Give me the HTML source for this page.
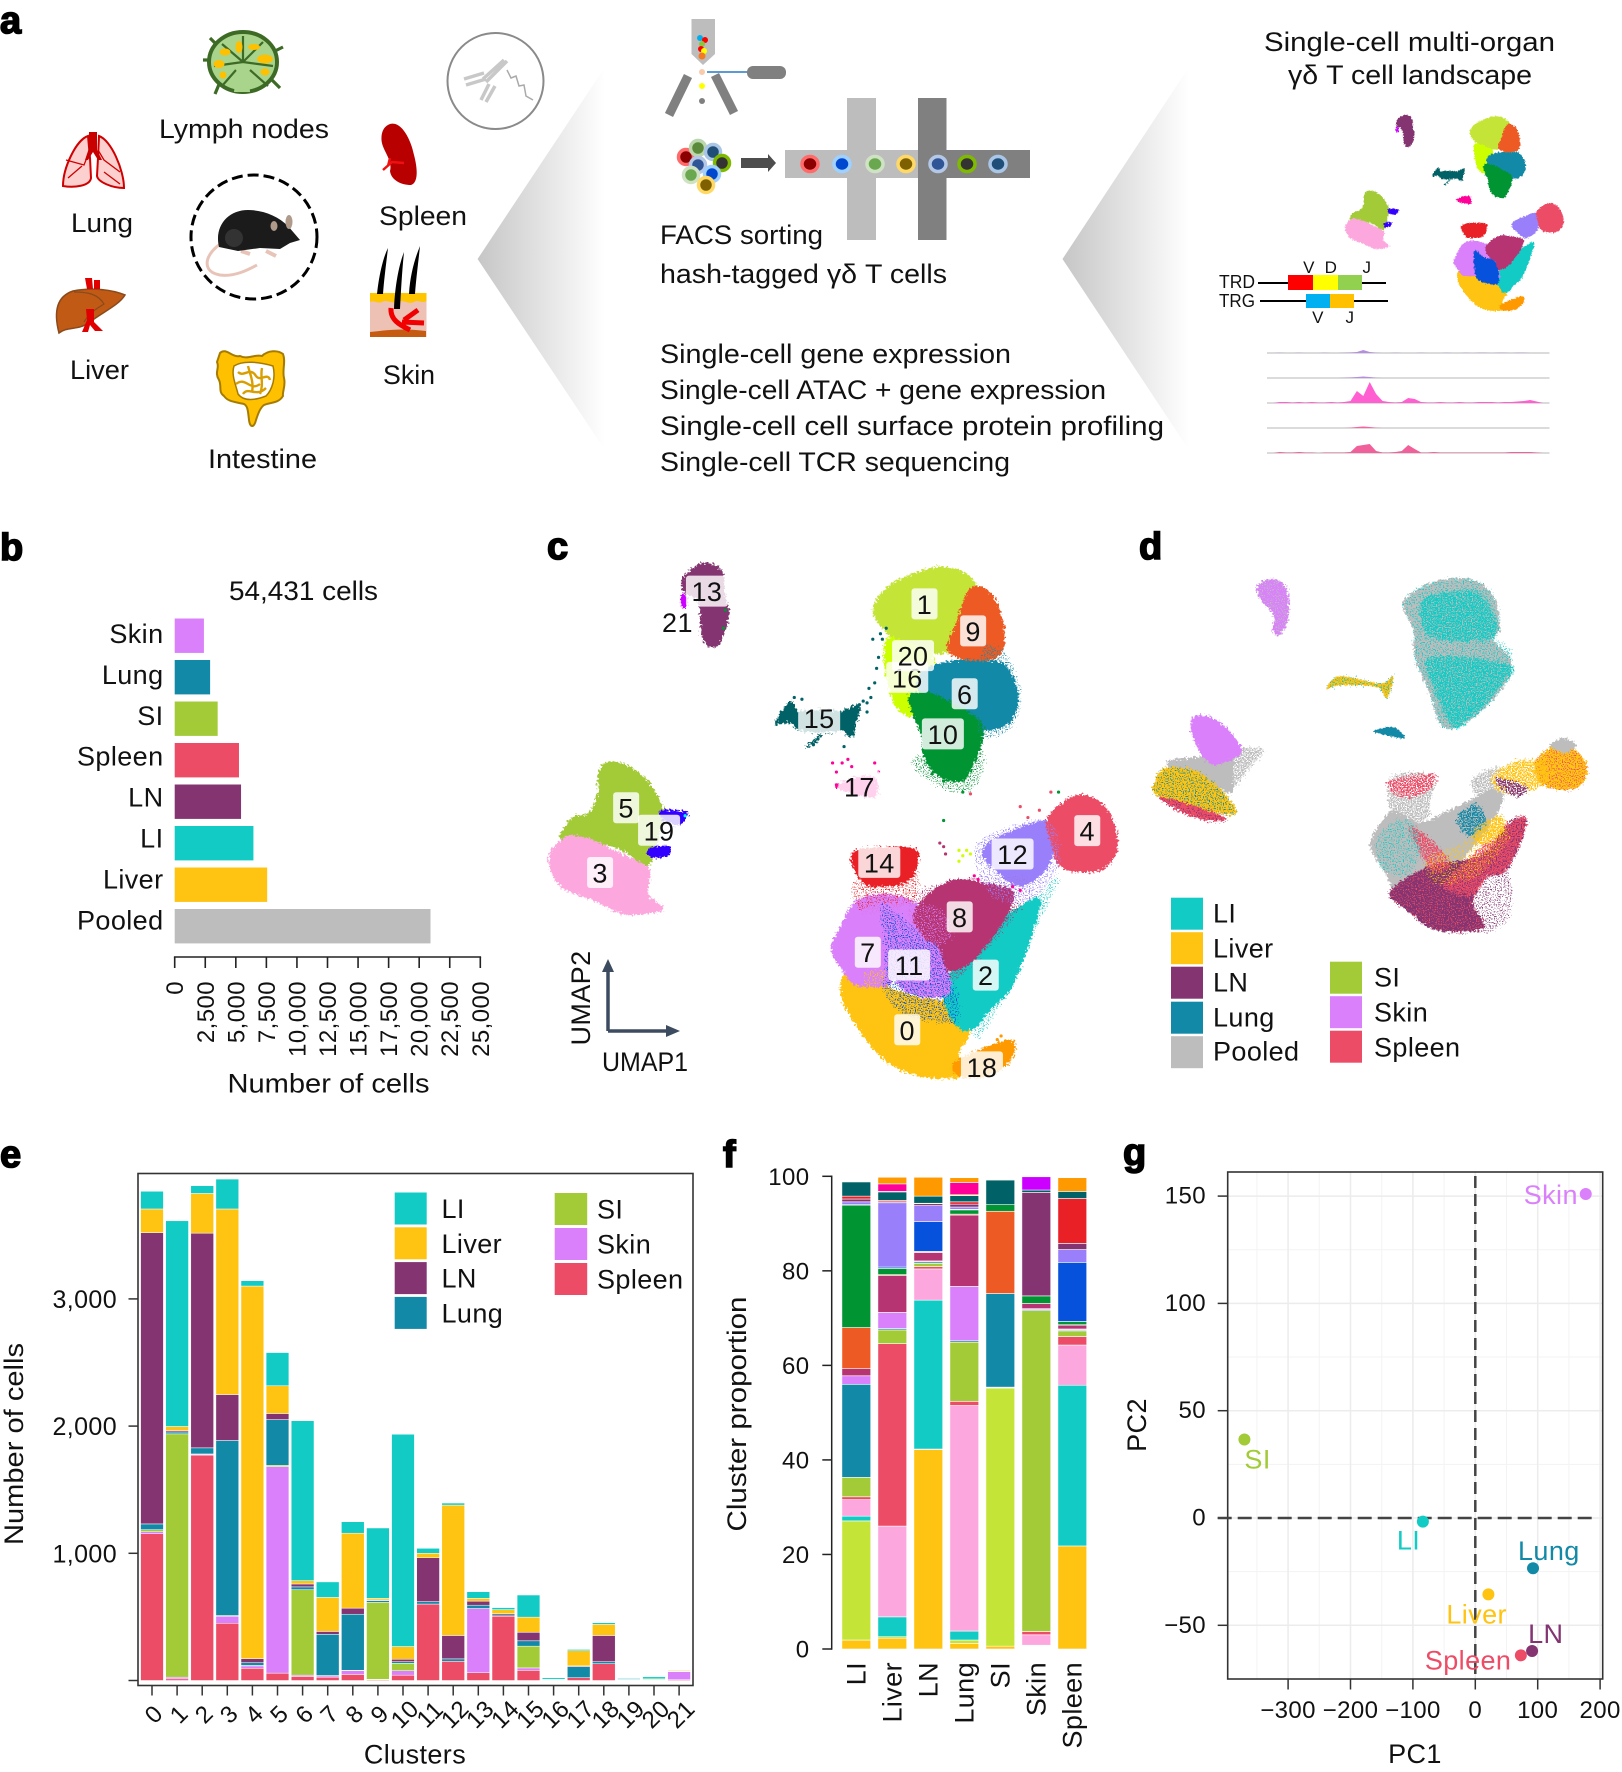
<!DOCTYPE html>
<html lang="en">
<head>
<meta charset="utf-8">
<title>Multi-organ gamma delta T cell landscape figure</title>
<style>
html,body{margin:0;padding:0;background:#fff;}
svg{display:block;}
text{font-family:"Liberation Sans","DejaVu Sans",sans-serif;fill:#111;letter-spacing:.4px;}
text[textLength]{letter-spacing:0;}
.lt{font-size:27px;}
.pl{font-size:38px;font-weight:bold;stroke:#000;stroke-width:1.6px;fill:#000;letter-spacing:0;}
</style>
</head>
<body>
<svg id="fig" xmlns="http://www.w3.org/2000/svg" width="1622" height="1772" viewBox="0 0 1622 1772">
<defs>
<linearGradient id="chev" x1="0" x2="1" y1="0" y2="0"><stop offset="0" stop-color="#c6c6c6"/><stop offset="1" stop-color="#ffffff"/></linearGradient>
<filter id="rough" x="-15%" y="-15%" width="130%" height="130%" color-interpolation-filters="sRGB"><feTurbulence type="fractalNoise" baseFrequency="0.45" numOctaves="2" seed="3" result="n"/><feDisplacementMap in="SourceGraphic" in2="n" scale="8" xChannelSelector="R" yChannelSelector="G"/></filter>
<filter id="roughSmall" x="-15%" y="-15%" width="130%" height="130%" color-interpolation-filters="sRGB"><feTurbulence type="fractalNoise" baseFrequency="0.6" numOctaves="2" seed="7" result="n"/><feDisplacementMap in="SourceGraphic" in2="n" scale="3.5" xChannelSelector="R" yChannelSelector="G"/></filter>
<filter id="speckDense" x="-15%" y="-15%" width="130%" height="130%" color-interpolation-filters="sRGB"><feTurbulence type="fractalNoise" baseFrequency="0.45" numOctaves="2" seed="31" result="d"/><feDisplacementMap in="SourceGraphic" in2="d" scale="11" xChannelSelector="R" yChannelSelector="G" result="s"/><feTurbulence type="fractalNoise" baseFrequency="0.8" numOctaves="1" seed="11" result="n"/><feColorMatrix in="n" type="matrix" values="0 0 0 0 0 0 0 0 0 0 0 0 0 0 0 14 0 0 0 -6" result="m"/><feComposite in="s" in2="m" operator="in"/></filter>
<filter id="speckSparse" x="-15%" y="-15%" width="130%" height="130%" color-interpolation-filters="sRGB"><feTurbulence type="fractalNoise" baseFrequency="0.45" numOctaves="2" seed="37" result="d"/><feDisplacementMap in="SourceGraphic" in2="d" scale="11" xChannelSelector="R" yChannelSelector="G" result="s"/><feTurbulence type="fractalNoise" baseFrequency="0.85" numOctaves="1" seed="23" result="n"/><feColorMatrix in="n" type="matrix" values="0 0 0 0 0 0 0 0 0 0 0 0 0 0 0 14 0 0 0 -7.9" result="m"/><feComposite in="s" in2="m" operator="in"/></filter>
</defs>

<g>
  <text class="pl" x="0" y="33">a</text>
  <polygon points="477.600,259 605,67 605,450" fill="url(#chev)"/>
  <polygon points="1062.500,259 1189,67 1189,450" fill="url(#chev)"/>

  <g transform="translate(-2 0)">
  <g>
    <path d="M205 60h12M212 38l10 10M236 32l2 11M262 35l-6 9M285 47l-12 6M282 88l-9-9M217 94l5-12M216 80l8-4" stroke="#3d6b26" stroke-width="3.200" fill="none"/>
    <ellipse cx="245" cy="62" rx="34" ry="30" fill="#a8d48c" stroke="#3d6b26" stroke-width="4"/>
    <path d="M245 62L245 36M245 62L224 44M245 62L265 42M245 62L216 66M245 62L275 66M252 70L270 86M238 70L224 86" stroke="#3d6b26" stroke-width="2.200" fill="none"/>
    <ellipse cx="241" cy="47" rx="3.500" ry="6" fill="#ffc000"/><ellipse cx="227" cy="52" rx="5.500" ry="3.500" fill="#ffc000"/><ellipse cx="256" cy="47" rx="6" ry="3" fill="#ffc000"/><ellipse cx="267" cy="59" rx="8" ry="4.500" fill="#ffc000"/><ellipse cx="221" cy="64" rx="5.500" ry="4" fill="#ffc000"/><ellipse cx="267" cy="72" rx="4.500" ry="3.500" fill="#ffc000"/><ellipse cx="225" cy="75" rx="3.500" ry="3.500" fill="#ffc000"/>
    <path d="M239 66L236 92L252 92L250 66Z" fill="#a8d48c"/>
  </g>
  <text class="lt" x="161" y="138" textLength="170" lengthAdjust="spacingAndGlyphs">Lymph nodes</text>

  <g>
    <path d="M90 136C78 140 65 168 65 186C76 188 92 186 93 178L92 158Z" fill="#fdd0d0" stroke="#d00000" stroke-width="2"/>
    <path d="M101 136C113 140 126 170 126 188C114 188 100 182 99 176L100 158Z" fill="#fdd0d0" stroke="#d00000" stroke-width="2"/>
    <path d="M68 160L86 165L92 150M70 178L84 166M122 172L106 160L100 150M122 184L106 172" stroke="#d00000" stroke-width="1.300" fill="none"/>
    <path d="M91 132H99V150L104 160H100L95 152L90 160H87L91 148Z" fill="#c80000"/>
  </g>
  <text class="lt" x="73" y="232" textLength="62" lengthAdjust="spacingAndGlyphs">Lung</text>

  <g>
    <path d="M392 124C402 121 412 136 416 155C420 170 420 183 413 185C403 185 393 180 392 171C395 160 384 150 383.500 140C383 132 386 126 392 124Z" fill="#b80000"/>
    <path d="M385 170L394 162L406 163M390 166L392 158" stroke="#f01010" stroke-width="2.500" fill="none"/>
  </g>
  <text class="lt" x="381" y="225" textLength="88" lengthAdjust="spacingAndGlyphs">Spleen</text>

  <ellipse cx="256" cy="237" rx="63" ry="62" fill="none" stroke="#000" stroke-width="3" stroke-dasharray="11 5"/>
  <g>
    <path d="M221 245C206 256 204 272 222 275C236 277 250 270 259 265" fill="none" stroke="#e8c4b8" stroke-width="3"/>
    <path d="M243 251L252 254M268 251L278 256" stroke="#e8c4b8" stroke-width="4"/>
    <path d="M221 247C216 226 230 210 250 210C265 210 280 216 290 226L302 240L292 243L282 249L262 248L240 251Z" fill="#1b1b1b"/>
    <ellipse cx="291" cy="222" rx="3.500" ry="7" fill="#b09a8a"/><ellipse cx="276" cy="226" rx="3.500" ry="5" fill="#b09a8a"/>
    <circle cx="236" cy="238" r="9" fill="#333"/>
  </g>

  <g>
    <path d="M61 333C55 310 60 296 75 291C95 287 115 290 127 295C121 305 105 312 92 322C80 331 70 326 61 333Z" fill="#c05a14" stroke="#8a4a1c" stroke-width="1.500"/>
    <path d="M76 292C90 292 100 294 106 304C100 308 92 312 86 322" stroke="#8a4a1c" stroke-width="1.200" fill="none"/>
    <path d="M87 278H94L95 289H89ZM96 280H102V289H96Z" fill="#e00000"/>
    <path d="M88 309H96V322L105 331H97L92 325L90 332H84L89 320Z" fill="#e00000"/>
  </g>
  <text class="lt" x="72" y="379" textLength="59" lengthAdjust="spacingAndGlyphs">Liver</text>

  <g>
    <rect x="372" y="293" width="56.500" height="44" fill="#edc1b4"/>
    <path d="M372 293H428.500V301C424 304 420 299 416 302C410 305 406 299 400 302C394 304 388 299 384 302C380 304 376 300 372 302Z" fill="#ffc600"/>
    <path d="M372 332C390 330 405 328 428 331V337H372Z" fill="#c55a11"/>
    <path d="M379 294C381 275 385 258 390 248C388 265 386 280 385 294Z" fill="#000"/><path d="M396 309C397 285 401 265 406 252C404 272 403 290 402 309Z" fill="#000"/><path d="M411 294C412 275 417 258 422 246C420 265 418 280 417 294Z" fill="#000"/>
    <path d="M393 308C392 320 402 325 412 330M404 322L426 323M406 320L420 310" stroke="#f00000" stroke-width="5" fill="none"/>
  </g>
  <text class="lt" x="385" y="384" textLength="52" lengthAdjust="spacingAndGlyphs">Skin</text>

  <g>
    <path d="M222 353C228 347 234 358 242 356C250 360 256 354 264 356C270 350 280 350 285 354C288 362 284 370 286 378C288 386 284 392 285 396C280 404 272 402 266 405C262 408 260 414 258 420C256 428 252 428 251 420C250 412 250 406 246 404C238 402 230 402 226 396C220 392 224 386 221 380C216 372 222 368 219 362Z" fill="#ffc000" stroke="#a67c00" stroke-width="2"/>
    <path d="M236 366C245 360 262 362 275 366C278 378 274 390 268 396C258 400 246 402 240 394C238 385 233 375 236 366Z" fill="#fff" stroke="#a67c00" stroke-width="1.500"/>
    <path d="M240 372C246 378 252 366 258 376C262 382 270 372 272 380M238 384C248 376 252 392 262 384M245 394C250 386 258 398 268 388M250 366C252 374 256 382 254 392M264 368C262 376 266 384 262 394" fill="none" stroke="#d99f00" stroke-width="2.400"/>
  </g>
  <text class="lt" x="210" y="468" textLength="109" lengthAdjust="spacingAndGlyphs">Intestine</text>

  <g>
    <ellipse cx="497.500" cy="81" rx="48" ry="48" fill="#fff" stroke="#8a8a8a" stroke-width="2"/>
    <path d="M509 61L488 82M506 60L485 79M466 79L486 73M468 85L488 79M497 86L488 102M491 84L483 100" stroke="#c8c8c8" stroke-width="3.500" fill="none"/>
    <path d="M509 70L513 78L518 76L521 86L526 85L528 96L535 100" stroke="#aaa" stroke-width="1.500" fill="none"/>
  </g>
  </g>

  <g transform="translate(-1 0)">
  <g>
    <path d="M692.500 19H716V54L704 65L692.500 54Z" fill="#bdbdbd"/>
    <circle cx="701" cy="38" r="3" fill="#00aeef"/><circle cx="706" cy="40" r="3" fill="#f00"/><circle cx="703" cy="44" r="3" fill="#8cc63f"/><circle cx="702" cy="49" r="3" fill="#f00"/><circle cx="705" cy="51" r="3" fill="#ff0"/><circle cx="703" cy="56" r="3.500" fill="#f47b20"/>
    <circle cx="703" cy="72" r="3" fill="#f8cbad"/>
    <line x1="708" y1="72" x2="750" y2="72" stroke="#5b9bd5" stroke-width="2"/>
    <rect x="748" y="66" width="39" height="13" rx="6" fill="#808080"/>
    <path d="M689 76L670 115" stroke="#808080" stroke-width="9"/><path d="M716 75L735 113" stroke="#808080" stroke-width="9"/>
    <circle cx="703" cy="86" r="3" fill="#ff0"/><circle cx="703" cy="101" r="3" fill="#808080"/>
  </g>
  <g>
    <g stroke-width="3.500"><circle cx="687" cy="157" r="7.500" fill="#8b0000" stroke="#ff6b6b"/><circle cx="699" cy="148" r="7.500" fill="#5a8a3a" stroke="#bcd6ad"/><circle cx="714" cy="152" r="7.500" fill="#1f4e79" stroke="#a9c6e6"/><circle cx="699" cy="165" r="7.500" fill="#2f5597" stroke="#b4c7e7"/><circle cx="723" cy="163" r="7.500" fill="#333" stroke="#7fba00"/><circle cx="713" cy="174" r="7.500" fill="#0047d0" stroke="#9fd0ff"/><circle cx="692" cy="175" r="7.500" fill="#6aa84f" stroke="#cfe2c3"/><circle cx="707" cy="185" r="7.500" fill="#7f6000" stroke="#ffd966"/></g>
    <path d="M742 158H769V154L777 163L769 172V168H742Z" fill="#4d4d4d"/>
  </g>
  <g>
    <rect x="848" y="98" width="29" height="142" fill="#bdbdbd"/>
    <rect x="786" y="150" width="136" height="28" fill="#bdbdbd"/>
    <rect x="919" y="150" width="112" height="28" fill="#808080"/>
    <rect x="919" y="98" width="28.500" height="142" fill="#808080"/>
    <g stroke-width="3.500"><ellipse cx="811" cy="164" rx="8" ry="7.500" fill="#8b0000" stroke="#ff6b6b"/><ellipse cx="843" cy="164" rx="8" ry="7.500" fill="#0047d0" stroke="#9fd0ff"/><ellipse cx="876" cy="164" rx="8" ry="7.500" fill="#6aa84f" stroke="#cfe2c3"/><ellipse cx="907" cy="164" rx="8" ry="7.500" fill="#7f6000" stroke="#ffd966"/><ellipse cx="939" cy="164" rx="8" ry="7.500" fill="#2f5597" stroke="#b4c7e7"/><ellipse cx="968" cy="164" rx="8" ry="7.500" fill="#333" stroke="#7fba00"/><ellipse cx="999" cy="164" rx="8" ry="7.500" fill="#1f4e79" stroke="#a9c6e6"/></g>
  </g>
  </g>
  <text class="lt" x="660" y="244" textLength="163" lengthAdjust="spacingAndGlyphs">FACS sorting</text>
  <text class="lt" x="660" y="283" textLength="287" lengthAdjust="spacingAndGlyphs">hash-tagged γδ T cells</text>
  <text class="lt" x="660" y="363" textLength="351" lengthAdjust="spacingAndGlyphs">Single-cell gene expression</text>
  <text class="lt" x="660" y="399" textLength="446" lengthAdjust="spacingAndGlyphs">Single-cell ATAC + gene expression</text>
  <text class="lt" x="660" y="435" textLength="504" lengthAdjust="spacingAndGlyphs">Single-cell cell surface protein profiling</text>
  <text class="lt" x="660" y="471" textLength="350" lengthAdjust="spacingAndGlyphs">Single-cell TCR sequencing</text>
  <text class="lt" x="1264" y="51" textLength="291" lengthAdjust="spacingAndGlyphs">Single-cell multi-organ</text>
  <text class="lt" x="1288" y="84" textLength="244" lengthAdjust="spacingAndGlyphs">γδ T cell landscape</text>

  <g id="mini-umap"></g>

  <g transform="translate(-3 0)">
    <text x="1222" y="288" font-size="18" textLength="36" lengthAdjust="spacingAndGlyphs">TRD</text>
    <text x="1222" y="307" font-size="18" textLength="36" lengthAdjust="spacingAndGlyphs">TRG</text>
    <line x1="1261" y1="283" x2="1389" y2="283" stroke="#000" stroke-width="2"/>
    <line x1="1263" y1="301" x2="1391" y2="301" stroke="#000" stroke-width="2"/>
    <rect x="1291" y="275" width="25" height="15" fill="#ff0000"/><rect x="1316" y="275" width="25" height="15" fill="#ffff00"/><rect x="1341" y="275" width="24" height="15" fill="#92d050"/>
    <rect x="1309" y="294" width="24" height="14" fill="#00b0f0"/><rect x="1333" y="294" width="24" height="14" fill="#ffc000"/>
    <text x="1312" y="273" font-size="17" text-anchor="middle">V</text><text x="1334" y="273" font-size="17" text-anchor="middle">D</text><text x="1370" y="273" font-size="17" text-anchor="middle">J</text>
    <text x="1321" y="323" font-size="17" text-anchor="middle">V</text><text x="1353" y="323" font-size="17" text-anchor="middle">J</text>
  </g>
  <g id="tracks"></g>
</g>

<g id="panel-b">
  <text class="pl" x="0" y="560">b</text>
  <text class="lt" x="229" y="600" textLength="149" lengthAdjust="spacingAndGlyphs">54,431 cells</text>
  <text class="lt" x="227.500" y="1092.500" textLength="202" lengthAdjust="spacingAndGlyphs">Number of cells</text>
</g>

<g id="panel-c">
  <text class="pl" x="547" y="559">c</text>
  <g transform="translate(-1 -1)">
    <path d="M609 1032V968M609 1032H673" fill="none" stroke="#3d4b60" stroke-width="3.500"/>
    <path d="M609 960L603 973H615Z" fill="#3d4b60"/><path d="M681 1032L667 1026V1038Z" fill="#3d4b60"/>
  </g>
  <text class="lt" transform="translate(590 998) rotate(-90)" text-anchor="middle">UMAP2</text>
  <text class="lt" x="602" y="1071" textLength="86" lengthAdjust="spacingAndGlyphs">UMAP1</text>
</g>

<g id="panel-d">
  <text class="pl" x="1139" y="559">d</text>
  <g id="legend-d" transform="translate(-1 -2.300)">
    <rect x="1172" y="900" width="32" height="32" fill="#12CBC4"/><text class="lt" x="1214" y="925">LI</text>
    <rect x="1172" y="934.500" width="32" height="32" fill="#FFC312"/><text class="lt" x="1214" y="960">Liver</text>
    <rect x="1172" y="969" width="32" height="32" fill="#833471"/><text class="lt" x="1214" y="994">LN</text>
    <rect x="1172" y="1004" width="32" height="32" fill="#1289A7"/><text class="lt" x="1214" y="1029">Lung</text>
    <rect x="1172" y="1038.500" width="32" height="32" fill="#BDBDBD"/><text class="lt" x="1214" y="1063">Pooled</text>
    <rect x="1331" y="964" width="32" height="32" fill="#A3CB38"/><text class="lt" x="1375" y="989">SI</text>
    <rect x="1331" y="998.500" width="32" height="32" fill="#D980FA"/><text class="lt" x="1375" y="1024">Skin</text>
    <rect x="1331" y="1033" width="32" height="32" fill="#ED4C67"/><text class="lt" x="1375" y="1059">Spleen</text>
  </g>
</g>

<g id="panel-e">
  <text class="pl" x="0" y="1167">e</text>
  <text class="lt" transform="translate(23 1444) rotate(-90)" text-anchor="middle" textLength="202" lengthAdjust="spacingAndGlyphs">Number of cells</text>
  <text class="lt" x="415" y="1763.500" text-anchor="middle">Clusters</text>
</g>

<g id="panel-f">
  <text class="pl" x="723" y="1167">f</text>
  <text class="lt" transform="translate(746 1414) rotate(-90)" text-anchor="middle" textLength="235" lengthAdjust="spacingAndGlyphs">Cluster proportion</text>
</g>

<g id="panel-g">
  <text class="pl" x="1123" y="1165">g</text>
  <text class="lt" x="1415" y="1763" text-anchor="middle">PC1</text>
  <text class="lt" transform="translate(1146 1425) rotate(-90)" text-anchor="middle">PC2</text>
</g>
</svg>

<script>
/* ---------- shared palette names ---------- */
const clusterColors = ['#FFC312','#C4E538','#12CBC4','#FDA7DF','#ED4C67','#A3CB38','#1289A7','#D980FA','#B53471','#EE5A24','#009432','#0652DD','#9980FA','#833471','#EA2027','#006266','#CCFF00','#FF0099','#FF9900','#3300FF','#00FFFF','#CC00FF'];
const tissueColors = {LI:'#12CBC4',Liver:'#FFC312',LN:'#833471',Lung:'#1289A7',Pooled:'#BDBDBD',SI:'#A3CB38',Skin:'#D980FA',Spleen:'#ED4C67'};

/* ---------- panel b data ---------- */
const bTissues = ['Skin','Lung','SI','Spleen','LN','LI','Liver','Pooled'];
const bCounts = [2390,2897,3515,5259,5427,6440,7565,20925];
const bTickValues = [0,2500,5000,7500,10000,12500,15000,17500,20000,22500,25000];
const bTickLabels = ['0','2,500','5,000','7,500','10,000','12,500','15,000','17,500','20,000','22,500','25,000'];

/* ---------- panel e data (cells per cluster, per tissue) ---------- */
const eClusters = ['0','1','2','3','4','5','6','7','8','9','10','11','12','13','14','15','16','17','18','19','20','21'];
const eSpleen = [1154,13,1772,450,96,58,32,26,48,6,42,601,151,61,505,80,3,22,132,3,3,6];
const eSkin = [16,13,6,55,19,1624,10,10,29,3,35,0,0,505,0,19,0,0,0,2,0,64];
const eSI = [16,1913,3,6,3,10,672,3,3,605,58,0,0,0,0,171,3,0,0,0,6,3];
const eLung = [45,15,48,1376,22,359,22,324,441,13,13,19,19,26,10,42,0,87,16,6,0,0];
const eLN = [2290,11,1688,361,32,48,23,23,48,6,19,345,184,32,10,67,0,6,206,3,0,0];
const eLiver = [186,32,312,1459,2929,218,26,267,589,13,100,35,1025,22,32,119,3,119,87,0,4,6];
const eLI = [139,1617,61,235,42,261,1257,122,90,553,1669,39,16,52,16,174,12,10,13,6,16,0];
const eTickValues = [0,1000,2000,3000];
const eTickLabels = ['','1,000','2,000','3,000'];
const eLegendA = ['LI','Liver','LN','Lung'];
const eLegendB = ['SI','Skin','Spleen'];

/* ---------- panel f data (percent of tissue per cluster 0..21) ---------- */
const fTissues = ['LI','Liver','LN','Lung','SI','Skin','Spleen'];
const fLI = [1.9,25.2,1.0,3.5,.6,4.1,19.7,1.8,1.5,8.7,25.9,.1,.6,.6,.6,3.0,0,0,0,0,0,0];
const fLiver = [2.3,.3,4.2,19.2,38.6,2.9,.3,3.4,7.8,.2,1.3,.3,13.6,.2,.3,1.8,.1,1.6,1.4,0,0,0];
const fLN = [42.2,.1,31.5,6.6,.5,.7,.3,.2,1.8,.1,.1,6.3,3.4,.4,.1,1.5,0,0,4,0,0,0];
const fLung = [1.2,.7,1.9,47.7,.9,12.5,.3,11.5,15.1,.2,.9,.1,.5,.6,.5,1.3,.2,2.6,1.0,0,0,0];
const fSI = [.6,54.6,.1,0,0,.1,19.8,0,0,17.4,1.4,0,0,0,0,5.2,0,0,0,0,0,0];
const fSkin = [0,0,0,2.2,.7,67.9,.2,.2,1.1,0,1.6,0,0,21.9,0,.5,0,0,0,0,0,2.8];
const fSpleen = [21.8,0,34,8.5,1.8,1.2,.2,.2,.8,.1,.7,12.5,2.7,1.3,9.5,1.5,0,0,2.9,0,0,0];
const fUnassigned = [0,0,0,0,0,.8,0];
const fTickValues = [0,20,40,60,80,100];

/* ---------- panel g data ---------- */
const gTissues = ['Skin','SI','LI','Lung','Liver','LN','Spleen'];
const gPC1 = [177,-370,-84,92.5,21,91,73];
const gPC2 = [151,36.6,-1.7,-23.4,-35.6,-62,-64];
const gXTicks = [-300,-200,-100,0,100,200];
const gYTicks = [-50,0,50,100,150];
const gXMinor = [-350,-250,-150,-50,50,150];
const gYMinor = [-25,25,75,125];

/* ---------- coverage track heights ---------- */
const track1 = [0,0,.3,0,0,.3,0,0,0,.3,0,0,.3,.5,1,3,1,.3,0,0,.3,0,0,0,.3,0,0,0,.3,0,0,.3,0,.3,.3,0,.3,.3,0,.3,.3,0,0,0,0];
const track2 = [0,0,0,0,0,0,0,0,0,0,0,0,.3,.5,1,1.5,1,.3,0,0,0,0,0,0,0,0,0,0,0,0,0,0,0,0,0,0,0,0,0,0,0,0,0,0,0];
const track3 = [0,0,1,1,.5,1,.5,1,.5,.5,1,.5,1,2,12,7,21,9,2,1,.5,1,5,4,1,.5,.5,1,.5,.5,1,.5,.5,1,1,1,.5,1,1,1.5,2,3,1.5,0,0];
const track4 = [0,0,0,0,0,0,0,0,0,0,0,0,0,.3,1,1.5,1,.3,0,0,0,0,0,0,0,0,0,0,0,0,0,0,0,0,0,0,0,0,0,0,0,0,0,0,0];
const track5 = [0,0,1,.5,.5,1,.5,.5,0,.5,.5,.5,.5,1,7,8,9,2,.5,.5,1,2,8,4,.5,.5,1,.5,.5,.5,.5,.5,.5,.5,.5,.5,.5,.5,1,1,1,1,.5,0,0];

/* ---------- panel c embedding outlines (UMAP1, UMAP2 reversed) ---------- */
const hull0 = [[8.2,12.2],[9.0,12.4],[10.0,12.8],[10.9,13.0],[11.5,13.7],[11.2,14.4],[11.3,15.0],[10.4,15.05],[9.6,14.8],[9.0,14.3],[8.5,13.6],[8.15,12.9]];
const hull1 = [[9.0,2.0],[9.4,1.5],[10.0,1.2],[10.7,1.0],[11.4,1.2],[11.8,1.8],[11.5,2.4],[11.3,3.2],[10.6,3.4],[9.9,3.1],[9.4,2.9],[9.0,2.4]];
const hull2 = [[13.3,10.1],[13.15,11.0],[12.85,11.9],[12.5,12.7],[12.0,13.2],[11.6,13.7],[11.2,13.7],[10.8,13.0],[10.8,12.4],[11.2,11.9],[11.8,11.2],[12.4,10.6]];
const hull3 = [[.55,8.8],[1,8.4],[1.6,8.5],[2.4,8.9],[3.1,9.3],[3.1,10],[3.5,10.4],[3,10.55],[2.4,10.55],[1.7,10.2],[.8,9.8],[.5,9.2]];
const hull4 = [[13.5,7.9],[14.2,7.3],[14.8,7.4],[15.2,7.9],[15.35,8.7],[15.0,9.3],[14.3,9.4],[13.8,9.2],[13.6,8.6]];
const hull5 = [[1.8,6.6],[2.2,6.35],[3.0,6.8],[3.5,7.7],[3.4,8.2],[3.1,9.2],[2.4,8.8],[1.7,8.6],[.8,8.5],[1.1,7.9],[1.5,7.8],[1.75,7.3]];
const hull6 = [[10.2,3.9],[11.0,3.6],[11.8,3.6],[12.4,3.7],[12.75,4.5],[12.6,5.2],[12.1,5.5],[11.5,5.4],[10.9,5.0],[10.2,4.6]];
const hull7 = [[8.5,10.2],[9.2,10.0],[10.0,10.2],[10.6,10.9],[10.4,11.6],[9.6,11.8],[9.4,12.5],[8.5,12.5],[8.1,12.0],[7.85,11.5],[8.1,10.9]];
const hull7b = [[9.4,10.4],[10.6,10.9],[10.9,12.0],[10.9,12.8],[9.6,12.5]];
const hull8 = [[11.1,9.6],[11.9,9.7],[12.6,9.9],[12.5,10.5],[12.0,11.3],[11.5,11.9],[10.9,12.1],[10.7,11.5],[10.3,11.2],[10.0,10.6],[10.4,10.0]];
const hull9 = [[11.5,1.6],[12.0,1.7],[12.3,2.3],[12.4,3.0],[12.2,3.5],[11.5,3.6],[10.9,3.3],[11.1,2.6]];
const hull10 = [[9.9,4.5],[10.5,4.5],[11.3,4.9],[11.8,5.3],[11.8,5.9],[11.6,6.4],[11.3,6.9],[10.7,6.8],[10.3,6.3],[10.2,5.6],[10.0,5.1]];
const hull12 = [[12.1,8.5],[13.0,8.1],[13.5,8.0],[13.7,8.5],[13.5,9.3],[12.8,9.8],[12.2,9.4],[11.8,8.9]];
const hull13 = [[4.0,1.3],[4.5,.9],[5.0,1.1],[5.1,1.8],[5.2,2.4],[4.9,3.2],[4.5,3.0],[4.4,2.0],[4.0,1.7]];
const hull14 = [[8.5,8.8],[9.5,8.7],[10.1,8.8],[10.1,9.3],[9.8,9.7],[9.0,9.8],[8.7,9.7],[8.4,9.2]];
const hull15a = [[6.4,5.3],[6.8,4.7],[7.0,5.0],[7.3,5.0],[7.2,5.4],[6.8,5.3]];
const hull15b = [[8.0,5.1],[8.6,4.8],[8.5,5.4],[8.4,5.7],[8.1,5.4]];
const hull15c = [[7.2,5.95],[7.6,5.6],[7.55,5.75],[7.3,5.95]];
const hull15d = [[7.0,5.0],[8.1,5.0],[8.1,5.5],[7.0,5.5]];
const hull16 = [[9.3,3.0],[10.4,3.2],[10.6,4.5],[10.2,5.0],[9.8,5.1],[9.4,4.5]];
const hull17 = [[8.0,7.05],[8.5,6.8],[9.0,6.8],[9.05,7.3],[8.6,7.3]];
const hull18 = [[11.1,14.6],[12.5,14.0],[12.6,14.5],[12,15],[11.2,15]];
const hull19a = [[3.2,8.7],[3.65,8.7],[3.6,8.95],[3.2,9.0],[3.05,8.85]];
const hull19b = [[3.4,7.7],[4.1,7.75],[3.9,8.1],[3.5,8.0]];
const hull21 = [[3.95,1.8],[4.1,1.8],[4.1,2.1],[3.95,2.1]];
const solidHulls = [[0,hull0],[2,hull2],[7,hull7],[7,hull7b],[8,hull8],[14,hull14],[12,hull12],[4,hull4],[16,hull16],[1,hull1],[9,hull9],[6,hull6],[10,hull10],[13,hull13],[15,hull15a],[15,hull15b],[15,hull15c],[15,hull15d],[17,hull17],[5,hull5],[3,hull3],[19,hull19a],[19,hull19b],[21,hull21],[18,hull18]];

const scatter2 = [[13.3,10],[13.8,9.6],[12.9,11.6],[12.3,13],[11.6,13.9],[12.2,11]];
const scatter6 = [[11.8,3.3],[12.4,3.4],[12.8,4.5],[12.5,5.5],[11.7,5.5]];
const scatter8 = [[10,10],[12.5,9.5],[13,10],[11.5,12],[10.7,12.4],[10.2,11.5]];
const scatter10 = [[10,6.3],[11.7,6],[11.8,6.7],[11.4,7.2],[10.6,7.0]];
const scatter12 = [[11.7,8.6],[13.5,8],[13.8,9.2],[13,10.2],[12,10]];
const scatter14 = [[8.5,9.6],[10,9.3],[10,10.2],[8.7,10.5]];
const scatter7 = [[8.7,10.4],[10.5,10.3],[11.0,11.2],[9.8,11.4]];
const scatter0a = [[8.9,12.1],[10.8,12.4],[10.9,13.3],[9.4,13.2],[8.8,12.7]];
const scatter11 = [[9.3,12.3],[10.9,12.3],[11.1,13.5],[9.6,13.2]];
const scatter11b = [[9.2,10.3],[10.0,10.9],[10.4,11.5],[9.4,11.4]];
const scatterHulls = [[2,scatter2],[6,scatter6],[8,scatter8],[10,scatter10],[12,scatter12],[14,scatter14],[7,scatter7],[0,scatter0a],[11,scatter11],[11,scatter11b]];

const hull11 = [[9.3,10.7],[9.9,11.2],[10.6,11.4],[10.9,12.2],[10.9,13.1],[10.2,13.1],[9.5,12.8],[9.3,12.2]];

const cOutlierU = [8.9,8.85,9.0,9.05,9.1,9.2,9.15,8.95,9.3,8.6,8.8,8.3,8.2,7.1,6.9,7.4,8.7,8.8, 7.9,8.15,8.3,8.4,8.0,9.0,9.1,8.0, 13.6,13.8,13.3,13.0,12.8, 10.8,10.85,10.7,10.8, 11.2,11.4,11.3,11.5,11.2, 11.6,11.7,12.6,12.8, 3.9,4.05, 11.3,11.5,10.5,10.8, 5.1,5.05, 12.2,12.35,12.3,12.4,11.9];
const cOutlierV = [4.6,4.35,4.2,3.8,3.5,3.0,2.85,3.0,2.7,4.8,4.75,5.6,5.95,4.65,4.6,5.9,4.7,5.0, 6.4,6.4,6.3,6.5,6.65,6.4,6.65,7.0, 7.2,7.2,7.7,7.9,7.6, 8.7,8.9,8.6,7.98, 8.8,8.8,8.95,8.9,9.1, 9.5,9.6,9.8,9.9, 7.8,7.85, 7.2,7.25,6.7,6.9, 2.2,2.7, 14.0,14.2,13.9,14.4,14.5];
const cOutlierCluster = [15,15,15,15,15,15,15,15,15,15,15,15,15,15,15,15,15,15, 17,17,17,17,17,17,17,17, 4,10,4,4,4, 8,8,8,10, 16,16,16,16,16, 17,17,17,17, 19,20, 10,4,10,10, 10,10, 18,18,18,18,18];

const cLabelText = ['0','1','2','3','4','5','6','7','8','9','10','11','12','13','14','15','16','17','18','19','20','21'];
const cLabelU = [9.85,10.3,11.9,1.83,14.55,2.51,11.35,8.82,11.22,11.57,10.78,9.9,12.6,4.62,9.12,7.55,9.85,8.6,11.8,3.37,10.0,3.85];
const cLabelV = [13.73,2.03,12.23,9.41,8.26,7.63,4.5,11.6,10.63,2.77,5.6,11.95,8.9,1.68,9.13,5.16,4.05,7.05,14.75,8.25,3.45,2.53];

/* ---------- panel d embedding outlines (tissue-coloured view) ---------- */
const dGrayUpper = [[8.5,2.0],[9.3,1.45],[10.5,1.35],[11.2,1.8],[11.4,2.7],[11.2,3.0],[11.75,3.6],[11.5,4.3],[10.5,5.2],[9.7,5.4],[9.3,4.5],[8.85,3.5],[8.8,2.7]];
const dTealUpperA = [[9.1,1.9],[10.7,1.7],[11.3,2.6],[11,3.0],[9.3,2.9]];
const dTealUpperB = [[9.3,3.5],[11.7,3.7],[11.4,4.3],[10.6,5.1],[10,5.4],[9.5,4.5]];
const dTealUpperC = [[9.2,2.8],[11.1,2.9],[11.7,3.6],[9.3,3.5]];
const dGrayLower = [[7.5,8.6],[8.0,7.8],[8.3,7.7],[9.0,8.0],[9.8,7.7],[10.5,7.4],[11.2,7.1],[11.5,7.4],[11.0,8.2],[10.3,9.0],[9.5,9.8],[8.5,10.2],[7.9,9.3]];
const dGrayNeck = [[8.1,6.8],[9.4,6.7],[9.3,7.4],[9.2,7.9],[8.3,8.0]];
const dGrayTwelve = [[10.6,6.8],[11.5,6.5],[11.6,7.2],[10.8,7.4]];
const dMaroon = [[8.1,9.9],[9.3,9.2],[10.8,8.9],[11.7,8.0],[12.2,8.0],[11.6,9.3],[11.0,9.5],[10.6,10.2],[10.9,10.9],[9.5,10.95],[8.6,10.4]];
const dMaroonSparse = [[10.6,9.6],[11.6,9.3],[11.7,10.5],[11.1,11.0],[10.6,10.8]];
const dRedUpper = [[10.0,9.4],[11.7,8.0],[12.2,8.0],[11.6,9.3],[11,9.5],[10.6,10],[9.7,9.8]];
const dMaroonWedge = [[8.7,8.1],[9.6,8.7],[9.9,9.2],[9.3,9.3]];
const dLiverBand = [[9.2,9.0],[10.2,8.6],[11.2,8.0],[11.7,8.3],[10.8,9.4],[9.5,9.7]];
const dAmberLobe = [[12.5,6.3],[13.3,5.85],[14,6.4],[13.8,7.0],[13.2,7.1],[12.6,6.9]];
const dAmberNeck = [[11.2,6.7],[12,6.3],[12.7,6.4],[12.8,6.9],[12,7.2],[11.3,7.1]];
const dGrayCap = [[12.9,5.9],[13.3,5.7],[13.7,5.9],[13.3,6.1]];
const dMaroonRight = [[11.3,6.8],[12.2,7.0],[12,7.3],[11.5,7.1]];
const dRedPatch = [[8.1,6.85],[9.4,6.7],[9.3,7.1],[8.7,7.3],[8.2,7.2]];
const dLungPatch = [[10.1,7.9],[10.7,7.5],[11,8.1],[10.5,8.4]];
const dLiverPatch = [[10.6,8.3],[11.4,7.8],[11.5,8.3],[10.8,8.6]];
const dTealSeven = [[7.7,8.5],[8.4,7.9],[9.0,8.4],[8.7,9.4],[7.9,9.3]];
const dPurpleLeft = [[2.2,5.1],[3,5.25],[3.65,6.0],[3.3,6.3],[2.7,6.4],[2.2,5.7]];
const dGrayLeft = [[1.5,6.3],[2.5,6.2],[3.3,6.05],[3.4,6.8],[3.3,7.2],[2.3,6.7],[1.5,6.5]];
const dGrayTail = [[3.3,6.1],[4.3,6.0],[3.8,6.6],[3.4,7.0]];
const dMixLeft = [[1.05,6.9],[1.4,6.5],[2.4,6.65],[3.3,7.4],[3.3,7.8],[1.2,7.3]];
const dRedLeft = [[1.2,7.3],[2.4,7.6],[3.2,7.9],[2.6,7.95],[1.7,7.65]];
const dPurpleTop = [[4.15,1.5],[4.6,1.35],[5,1.6],[5.05,2.4],[4.8,2.85],[4.6,2.8],[4.6,2.3],[4.2,1.9]];
const dTrack15 = [[6.2,4.35],[6.6,4.0],[7.8,4.2],[8.2,4.0],[8.0,4.6],[7.7,4.3],[6.6,4.25]];
const dTrack17 = [[7.6,5.5],[8.2,5.4],[8.55,5.7],[7.9,5.6]];

/* ---------- drawing helpers ---------- */
const NS = 'http://www.w3.org/2000/svg';
function add(parent, tag, attrs){
  const node = document.createElementNS(NS, tag);
  for (const k in attrs) node.setAttribute(k, attrs[k]);
  parent.appendChild(node);
  return node;
}
function smooth(pts, xf, yf){
  const P = pts.map(p => [xf(p[0]), yf(p[1])]);
  const n = P.length;
  let d = 'M' + P[0][0].toFixed(1) + ' ' + P[0][1].toFixed(1);
  for (let i = 0; i < n; i++){
    const a = P[(i-1+n)%n], b = P[i], c = P[(i+1)%n], e = P[(i+2)%n];
    d += 'C' + (b[0]+(c[0]-a[0])/6).toFixed(1) + ' ' + (b[1]+(c[1]-a[1])/6).toFixed(1) + ' ' +
         (c[0]-(e[0]-b[0])/6).toFixed(1) + ' ' + (c[1]-(e[1]-b[1])/6).toFixed(1) + ' ' +
         c[0].toFixed(1) + ' ' + c[1].toFixed(1);
  }
  return d + 'Z';
}
function blob(parent, pts, xf, yf, color, filter, name){
  const el = add(parent, 'path', {d: smooth(pts, xf, yf), fill: color, filter: 'url(#' + filter + ')'});
  
  
  return el;
}

/* ---------- panel a extras ---------- */
const miniX = u => 1338 + u*14.7;
const miniY = v => 102.5 + v*13.83;
const miniG = document.getElementById('mini-umap');
solidHulls.forEach(([c, pts]) => { blob(miniG, pts, miniX, miniY, clusterColors[c], 'roughSmall', 'mini-umap-cluster-' + c); });
blob(miniG, hull11, miniX, miniY, clusterColors[11], 'roughSmall', 'mini-umap-cluster-11');

const tracksG = document.getElementById('tracks');
const trackX = i => 1267 + i*6.42;
[[track1,353,'#b48ee0'],[track2,378,'#b48ee0'],[track3,403,'#ff5fd0'],[track4,428,'#ff5fa0'],[track5,453,'#f0609a']].forEach(([h, y0, col], t) => {
  const base = add(tracksG, 'line', {x1: trackX(0), x2: trackX(44), y1: y0, y2: y0, stroke: '#cfcfcf', 'stroke-width': 1.5});
  
  
  let d = 'M' + trackX(0) + ' ' + y0;
  h.forEach((v, i) => { d += 'L' + trackX(i).toFixed(1) + ' ' + (y0 - v).toFixed(1); });
  d += 'L' + trackX(44) + ' ' + y0 + 'Z';
  const area = add(tracksG, 'path', {d: d, fill: col});
  
  
});

/* ---------- panel b ---------- */
const bG = document.getElementById('panel-b');
const bX = v => 174.7 + v*305.6/25000;
const bBarY = i => 618.5 + i*41.5;
const bLabelY = i => 643 + i*40.9;
bTissues.forEach((t, i) => {
  const r = add(bG, 'rect', {x: bX(0), y: bBarY(i), width: bX(bCounts[i]) - bX(0), height: 34.4, fill: tissueColors[t]});
  
  
  const l = add(bG, 'text', {x: 163.5, y: bLabelY(i), 'text-anchor': 'end', 'font-size': 27});
  l.textContent = t;
  
  
});
const bAxis = add(bG, 'line', {x1: bX(0) - .8, x2: bX(25000) + .8, y1: 957, y2: 957, stroke: '#222', 'stroke-width': 1.6});


bTickValues.forEach((v, i) => {
  const t = add(bG, 'line', {x1: bX(v), x2: bX(v), y1: 957, y2: 968, stroke: '#222', 'stroke-width': 1.6});
  
  
  const l = add(bG, 'text', {transform: 'translate(' + (bX(v) + 8.5) + ' 981) rotate(-90)', 'text-anchor': 'end', 'font-size': 24});
  l.textContent = bTickLabels[i];
  
  
});

/* ---------- panel c ---------- */
const cG = document.getElementById('panel-c');
const cX = u => 530 + u*38.3;
const cY = v => 530 + v*36.4;
solidHulls.forEach(([c, pts]) => { blob(cG, pts, cX, cY, clusterColors[c], 'rough', 'umap-cluster-' + c); });
scatterHulls.forEach(([c, pts]) => { blob(cG, pts, cX, cY, clusterColors[c], 'speckSparse', 'umap-cluster-scatter-' + c); });
blob(cG, hull11, cX, cY, clusterColors[11], 'speckSparse', 'umap-cluster-11');
cOutlierU.forEach((u, i) => {
  const dot = add(cG, 'circle', {cx: cX(u), cy: cY(cOutlierV[i]), r: 1.6, fill: clusterColors[cOutlierCluster[i]]});
  
  
});
cLabelText.forEach((t, i) => {
  const w = t.length > 1 ? 42 : 26;
  const r = add(cG, 'rect', {x: cX(cLabelU[i]) - w/2, y: cY(cLabelV[i]) - 15.5, width: w, height: 31, rx: 3, fill: '#fff', 'fill-opacity': t === '21' ? 0 : .82});
  
  
  const l = add(cG, 'text', {x: cX(cLabelU[i]), y: cY(cLabelV[i]) + 10, 'text-anchor': 'middle', 'font-size': 27});
  l.textContent = t;
  
  
});

/* ---------- panel d ---------- */
const dG = document.getElementById('panel-d');
const dX = u => 1120 + u*33.33;
const dY = v => 530 + v*36.54;
blob(dG, dGrayUpper, dX, dY, tissueColors.Pooled, 'rough', 'pooled-cells-upper');
blob(dG, dTealUpperA, dX, dY, tissueColors.LI, 'speckDense', 'li-cells-upper-a');
blob(dG, dTealUpperB, dX, dY, tissueColors.LI, 'speckDense', 'li-cells-upper-b');
blob(dG, dTealUpperB, dX, dY, tissueColors.LI, 'speckSparse', 'li-cells-upper-b-fill');
blob(dG, dTealUpperC, dX, dY, tissueColors.LI, 'speckSparse', 'li-cells-upper-c');
blob(dG, dGrayUpper, dX, dY, tissueColors.LI, 'speckSparse', 'li-cells-upper-scatter');
blob(dG, dGrayLower, dX, dY, tissueColors.Pooled, 'rough', 'pooled-cells-lower');
blob(dG, dGrayNeck, dX, dY, tissueColors.Pooled, 'speckDense', 'pooled-cells-neck');
blob(dG, dGrayTwelve, dX, dY, tissueColors.Pooled, 'speckDense', 'pooled-cells-twelve');
blob(dG, dMaroon, dX, dY, tissueColors.LN, 'rough', 'ln-cells-lower');
blob(dG, dMaroonSparse, dX, dY, tissueColors.LN, 'speckSparse', 'ln-cells-lower-right');
blob(dG, dMaroon, dX, dY, tissueColors.Spleen, 'speckSparse', 'spleen-cells-lower');
blob(dG, dRedUpper, dX, dY, tissueColors.Spleen, 'speckDense', 'spleen-cells-upper');
blob(dG, dMaroonWedge, dX, dY, tissueColors.Spleen, 'speckDense', 'spleen-cells-wedge');
blob(dG, dLiverBand, dX, dY, tissueColors.Liver, 'speckSparse', 'liver-cells-band');
blob(dG, dAmberLobe, dX, dY, tissueColors.Liver, 'rough', 'liver-cells-lobe');
blob(dG, dAmberLobe, dX, dY, tissueColors.Spleen, 'speckSparse', 'spleen-cells-lobe');
blob(dG, dAmberNeck, dX, dY, tissueColors.Liver, 'speckDense', 'liver-cells-neck');
blob(dG, dGrayCap, dX, dY, tissueColors.Pooled, 'rough', 'pooled-cells-cap');
blob(dG, dMaroonRight, dX, dY, tissueColors.LN, 'speckDense', 'ln-cells-right');
blob(dG, dRedPatch, dX, dY, tissueColors.Spleen, 'speckDense', 'spleen-cells-patch');
blob(dG, dLungPatch, dX, dY, tissueColors.Lung, 'speckDense', 'lung-cells-patch');
blob(dG, dLiverPatch, dX, dY, tissueColors.Liver, 'speckDense', 'liver-cells-patch');
blob(dG, dTealSeven, dX, dY, tissueColors.LI, 'speckSparse', 'li-cells-left-edge');
blob(dG, dGrayLeft, dX, dY, tissueColors.Pooled, 'rough', 'pooled-cells-left');
blob(dG, dGrayTail, dX, dY, tissueColors.Pooled, 'speckDense', 'pooled-cells-tail');
blob(dG, dPurpleLeft, dX, dY, tissueColors.Skin, 'rough', 'skin-cells-left');
blob(dG, dMixLeft, dX, dY, tissueColors.Liver, 'rough', 'liver-cells-left');
blob(dG, dMixLeft, dX, dY, tissueColors.Lung, 'speckSparse', 'lung-cells-left');
blob(dG, dRedLeft, dX, dY, tissueColors.Spleen, 'rough', 'spleen-cells-left');
blob(dG, dRedLeft, dX, dY, tissueColors.LN, 'speckSparse', 'ln-cells-left');
blob(dG, dPurpleTop, dX, dY, tissueColors.Skin, 'rough', 'skin-cells-top');
blob(dG, dPurpleTop, dX, dY, tissueColors.Pooled, 'speckSparse', 'pooled-cells-top');
blob(dG, dTrack15, dX, dY, tissueColors.Liver, 'roughSmall', 'liver-cells-cluster-15');
blob(dG, dTrack15, dX, dY, tissueColors.LN, 'speckSparse', 'ln-cells-cluster-15');
blob(dG, dTrack15, dX, dY, tissueColors.LI, 'speckSparse', 'li-cells-cluster-15');
blob(dG, dTrack17, dX, dY, tissueColors.Lung, 'roughSmall', 'lung-cells-cluster-17');

/* ---------- panel e ---------- */
const eG = document.getElementById('panel-e');
const eXc = i => 152 + i*25.1;
const eY = v => 1680.5 - v*0.1272;
const eBox = add(eG, 'rect', {x: 138, y: 1173.5, width: 555, height: 512, fill: 'none', stroke: '#333', 'stroke-width': 1.6});


const eStackOrder = [[eSpleen,'Spleen'],[eSkin,'Skin'],[eSI,'SI'],[eLung,'Lung'],[eLN,'LN'],[eLiver,'Liver'],[eLI,'LI']];
eClusters.forEach((c, i) => {
  let cum = 0;
  eStackOrder.forEach(([arr, t]) => {
    const v = arr[i];
    if (v <= 0) return;
    const r = add(eG, 'rect', {x: eXc(i) - 11.4, y: eY(cum + v), width: 22.8, height: eY(cum) - eY(cum + v), fill: tissueColors[t], stroke: '#fff', 'stroke-width': .5});
    
    
    cum += v;
  });
  const tk = add(eG, 'line', {x1: eXc(i), x2: eXc(i), y1: 1685.5, y2: 1695.5, stroke: '#333', 'stroke-width': 1.5});
  
  
  const l = add(eG, 'text', {transform: 'translate(' + (eXc(i) + 3) + ' 1715.5) rotate(-45)', 'text-anchor': 'middle', 'font-size': 24, 'dominant-baseline': 'middle'});
  l.textContent = c;
  
  
});
eTickValues.forEach((v, i) => {
  const tk = add(eG, 'line', {x1: 128.5, x2: 138, y1: eY(v), y2: eY(v), stroke: '#333', 'stroke-width': 1.5});
  
  
  const l = add(eG, 'text', {x: 117, y: eY(v) + 9, 'text-anchor': 'end', 'font-size': 25});
  l.textContent = eTickLabels[i];
  
  
});
eLegendA.forEach((t, i) => {
  const r = add(eG, 'rect', {x: 394.7, y: 1192.5 + i*34.8, width: 32, height: 32, fill: tissueColors[t]});
  
  
  const l = add(eG, 'text', {x: 441.5, y: 1218 + i*34.8, 'font-size': 27});
  l.textContent = t;
  
  
});
eLegendB.forEach((t, i) => {
  const r = add(eG, 'rect', {x: 554.7, y: 1193 + i*35, width: 32.5, height: 32, fill: tissueColors[t]});
  
  
  const l = add(eG, 'text', {x: 597, y: 1218.7 + i*35, 'font-size': 27});
  l.textContent = t;
  
  
});

/* ---------- panel f ---------- */
const fG = document.getElementById('panel-f');
const fXc = i => 856.3 + i*36;
const fY = v => 1649 - v*4.727;
const fSeries = [fLI, fLiver, fLN, fLung, fSI, fSkin, fSpleen];
const fAxis = add(fG, 'line', {x1: 831.7, x2: 831.7, y1: fY(100) - .8, y2: fY(0) + .8, stroke: '#222', 'stroke-width': 1.5});


fTickValues.forEach(v => {
  const tk = add(fG, 'line', {x1: 822.3, x2: 831.7, y1: fY(v), y2: fY(v), stroke: '#222', 'stroke-width': 1.5});
  
  
  const l = add(fG, 'text', {x: 809.5, y: fY(v) + 8.5, 'text-anchor': 'end', 'font-size': 24});
  l.textContent = String(v);
  
  
});
fTissues.forEach((t, i) => {
  let cum = fUnassigned[i];
  fSeries[i].forEach((v, c) => {
    if (v <= 0) return;
    const r = add(fG, 'rect', {x: fXc(i) - 14.4, y: fY(cum + v), width: 28.8, height: fY(cum) - fY(cum + v), fill: clusterColors[c], stroke: '#fff', 'stroke-width': .6});
    
    
    cum += v;
  });
  const l = add(fG, 'text', {transform: 'translate(' + (fXc(i) + 9) + ' 1662) rotate(-90)', 'text-anchor': 'end', 'font-size': 27});
  l.textContent = t;
  
  
});

/* ---------- panel g ---------- */
const gG = document.getElementById('panel-g');
const gX = v => 1475.3 + v*0.624;
const gY = v => 1518 - v*2.146;
const gLeft = 1227.7, gRight = 1602.7, gTop = 1172, gBottom = 1679;
gXMinor.forEach(v => {
  const ln = add(gG, 'line', {x1: gX(v), x2: gX(v), y1: gTop, y2: gBottom, stroke: '#f3f3f3', 'stroke-width': 1});
  
  
});
gYMinor.forEach(v => {
  const ln = add(gG, 'line', {x1: gLeft, x2: gRight, y1: gY(v), y2: gY(v), stroke: '#f3f3f3', 'stroke-width': 1});
  
  
});
gXTicks.forEach(v => {
  const ln = add(gG, 'line', {x1: gX(v), x2: gX(v), y1: gTop, y2: gBottom, stroke: '#ececec', 'stroke-width': 1.5});
  
  
  const tk = add(gG, 'line', {x1: gX(v), x2: gX(v), y1: gBottom, y2: gBottom + 10.5, stroke: '#333', 'stroke-width': 1.5});
  
  
  const l = add(gG, 'text', {x: gX(v), y: 1718, 'text-anchor': 'middle', 'font-size': 24});
  l.textContent = String(v).replace('-', '\u2212');
  
  
});
gYTicks.forEach(v => {
  const ln = add(gG, 'line', {x1: gLeft, x2: gRight, y1: gY(v), y2: gY(v), stroke: '#ececec', 'stroke-width': 1.5});
  
  
  const tk = add(gG, 'line', {x1: gLeft - 10, x2: gLeft, y1: gY(v), y2: gY(v), stroke: '#333', 'stroke-width': 1.5});
  
  
  const l = add(gG, 'text', {x: 1206, y: gY(v) + 7.5, 'text-anchor': 'end', 'font-size': 24});
  l.textContent = String(v).replace('-', '\u2212');
  
  
});
const gFrame = add(gG, 'rect', {x: gLeft, y: gTop, width: gRight - gLeft, height: gBottom - gTop, fill: 'none', stroke: '#333', 'stroke-width': 1.6});


const gZeroV = add(gG, 'line', {x1: gX(0), x2: gX(0), y1: gTop + 4, y2: gBottom, stroke: '#444', 'stroke-width': 2.5, 'stroke-dasharray': '12 6'});


const gZeroH = add(gG, 'line', {x1: gLeft - 10, x2: gRight - 5, y1: gY(0), y2: gY(0), stroke: '#444', 'stroke-width': 2.5, 'stroke-dasharray': '14 6'});


const gLabelDx = {Skin:-62,SI:0,LI:-26,Lung:-15,Liver:-42,LN:-4,Spleen:-96};
const gLabelDy = {Skin:10,SI:29,LI:28,Lung:-8,Liver:29,LN:-8,Spleen:14};
gTissues.forEach((t, i) => {
  const dot = add(gG, 'ellipse', {cx: gX(gPC1[i]), cy: gY(gPC2[i]), rx: 6, ry: 6, fill: tissueColors[t]});
  
  
  const l = add(gG, 'text', {x: gX(gPC1[i]) + gLabelDx[t], y: gY(gPC2[i]) + gLabelDy[t], 'font-size': 27, style: 'fill:' + tissueColors[t]});
  l.textContent = t;
  
  
});
</script>
</body>
</html>
